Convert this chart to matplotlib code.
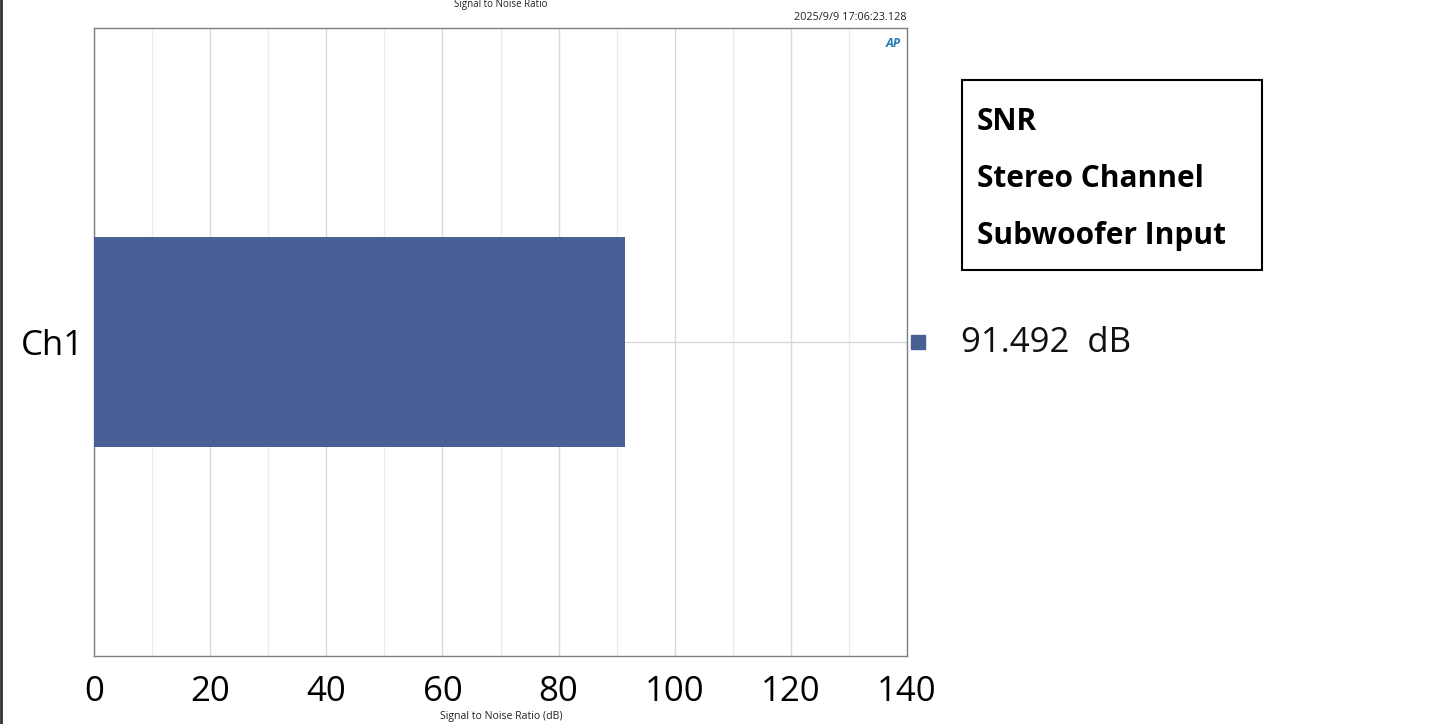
import matplotlib
matplotlib.use("Agg")
import matplotlib.pyplot as plt
from matplotlib.patches import Rectangle
from matplotlib.lines import Line2D

categories = ["Ch1"]
values = [91.492]
value_labels = ["91.492  dB"]
xticks = [0, 20, 40, 60, 80, 100, 120, 140]
title = "Signal to Noise Ratio"
xlabel = "Signal to Noise Ratio (dB)"
timestamp = "2025/9/9 17:06:23.128"
info_lines = ["SNR", "Stereo Channel", "Subwoofer Input"]

plt.rcParams['font.family'] = ['Open Sans', 'DejaVu Sans']
W, H = 1440, 724
fig = plt.figure(figsize=(W / 100, H / 100), dpi=100)
ax = fig.add_axes([94 / W, 1 - 656 / H, (907 - 94) / W, (656 - 28) / H])

bar_color = "#4a5f96"
ax.barh(range(len(categories)), values, height=1.0, color=bar_color, zorder=3)
ax.set_ylim(-1.5, 1.5)
ax.set_xlim(0, 140)
ax.set_xticks(xticks)
ax.set_xticks(range(10, 140, 20), minor=True)
ax.set_xticklabels([str(t) for t in xticks], fontsize=25)
ax.set_yticks(range(len(categories)))
ax.set_yticklabels(categories, fontsize=25)
ax.tick_params(axis='both', which='both', length=0)
ax.tick_params(axis='x', pad=14)
ax.tick_params(axis='y', pad=7)
ax.grid(True, axis='x', which='major', color='#d8d8d8', lw=1.0, zorder=0)
ax.grid(True, axis='x', which='minor', color='#ececec', lw=1.0, zorder=0)
ax.grid(True, axis='y', which='major', color='#d8d8d8', lw=1.0, zorder=0)
for s in ax.spines.values():
    s.set_color('#808080')
    s.set_linewidth(1.0)

fig.text(501 / W, 1 - 4 / H, title, fontsize=7, ha='center', va='center', color='#222222')
fig.text(907 / W, 1 - 17 / H, timestamp, fontsize=7.8, ha='right', va='center', color='#222222')
fig.text(501 / W, 1 - 716 / H, xlabel, fontsize=7.6, ha='center', va='center', color='#222222')
ax.text(0.983, 0.975, "AP", transform=ax.transAxes, fontsize=9, fontweight='bold',
        fontstyle='italic', color='#2a7ab8', ha='center', va='center')

# info box
fig.patches.append(Rectangle((962 / W, 1 - 270 / H), (1262 - 962) / W, (270 - 80) / H,
                             transform=fig.transFigure, fill=False, ec='black', lw=1.5))
for i, line in enumerate(info_lines):
    fig.text(977 / W, 1 - (122 + 57 * i) / H, line, fontsize=21.5, fontweight='bold',
             ha='left', va='center', color='black')

# legend-like value label
for i, (v, lbl) in enumerate(zip(values, value_labels)):
    fig.lines.append(Line2D([918 / W], [1 - 342 / H], marker='s', markersize=10,
                            color=bar_color, transform=fig.transFigure))
    fig.text(961 / W, 1 - 343 / H, lbl, fontsize=25, ha='left', va='center', color='#111111')

fig.lines.append(Line2D([1 / W, 1 / W], [0, 1], color='#333333', lw=2, transform=fig.transFigure))

fig.savefig("out.png", dpi=100, facecolor='white')
